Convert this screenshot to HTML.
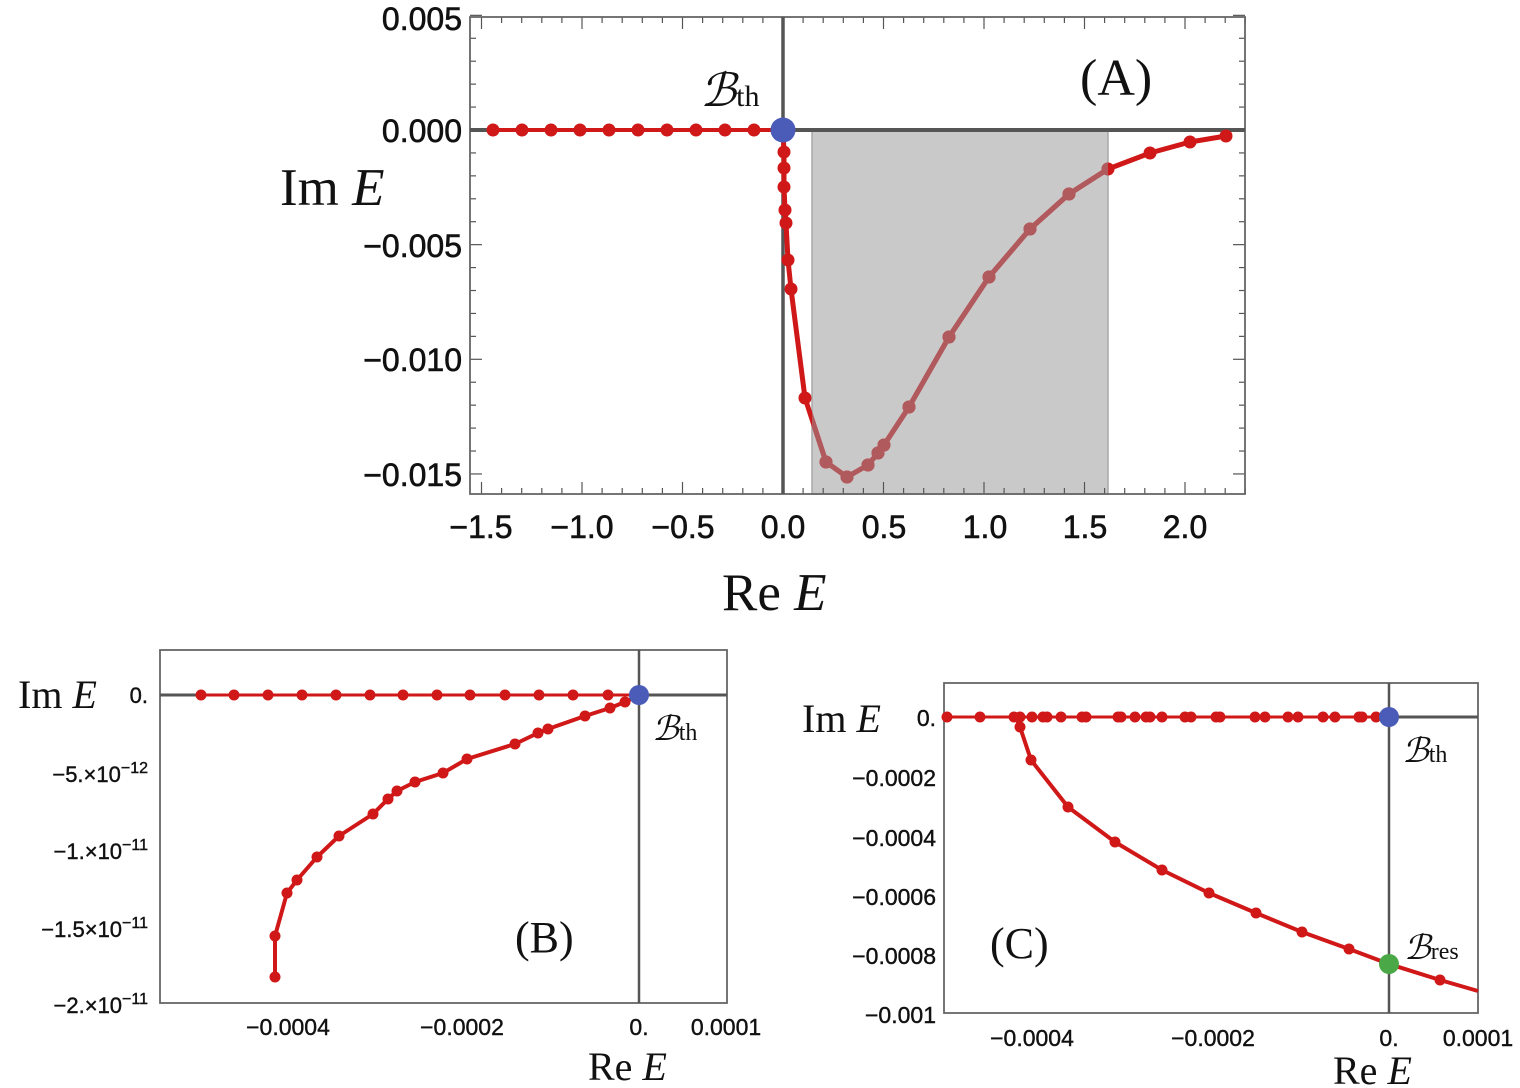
<!DOCTYPE html>
<html><head><meta charset="utf-8"><style>
html,body{margin:0;padding:0;background:#fff;}
svg{display:block;}
.t{font-family:"Liberation Sans",sans-serif;fill:#111;stroke:#111;stroke-width:0.6;}
.s{font-family:"Liberation Serif","DejaVu Serif",serif;fill:#111;}
</style></head><body>
<svg id="s" width="1520" height="1088" viewBox="0 0 1520 1088" xmlns="http://www.w3.org/2000/svg">
<defs><clipPath id="cr"><rect x="812" y="130" width="296" height="364"/></clipPath></defs>
<!-- Panel A -->
<rect x="812" y="130" width="296" height="364" fill="#c9c9c9" stroke="#a8a8a8" stroke-width="1.5"/>
<g id="ticksA" stroke="#555" stroke-width="1.2"></g>
<rect x="470" y="17" width="775" height="477" fill="none" stroke="#666" stroke-width="1.8"/>
<line x1="783" y1="17" x2="783" y2="494" stroke="#555" stroke-width="3.5"/>
<line x1="470" y1="130" x2="1245" y2="130" stroke="#555" stroke-width="4"/>
<g id="curveA"></g>
<circle cx="783" cy="130" r="12.5" fill="#4a5cb8"/>
<g class="t" font-size="32" text-anchor="end">
<text x="462" y="30">0.005</text><text x="462" y="142">0.000</text><text x="462" y="257">−0.005</text><text x="462" y="371">−0.010</text><text x="462" y="486">−0.015</text>
</g>
<g class="t" font-size="32" text-anchor="middle">
<text x="481" y="538">−1.5</text><text x="582" y="538">−1.0</text><text x="683" y="538">−0.5</text><text x="783" y="538">0.0</text><text x="884" y="538">0.5</text><text x="985" y="538">1.0</text><text x="1085" y="538">1.5</text><text x="1185" y="538">2.0</text>
</g>
<text class="s" x="280" y="205" font-size="53">Im <tspan font-style="italic">E</tspan></text>
<text class="s" x="722" y="610" font-size="53">Re <tspan font-style="italic">E</tspan></text>
<text class="s" x="1080" y="95" font-size="52">(A)</text>
<text class="s" x="700" y="106" font-size="46" font-style="italic">ℬ<tspan font-style="normal" font-size="30">th</tspan></text>

<!-- Panel B -->
<rect x="160" y="650" width="567" height="353" fill="none" stroke="#666" stroke-width="1.8"/>
<line x1="639" y1="650" x2="639" y2="1003" stroke="#555" stroke-width="2.5"/>
<line x1="160" y1="695" x2="727" y2="695" stroke="#555" stroke-width="3"/>
<g id="curveB"></g>
<circle cx="639" cy="695" r="10" fill="#4a5cb8"/>
<g class="t" font-size="22" text-anchor="end" style="stroke-width:0.4">
<text x="148" y="703">0.</text>
<text x="148" y="782">−5.×10<tspan font-size="16" dy="-9">−12</tspan></text>
<text x="148" y="859">−1.×10<tspan font-size="16" dy="-9">−11</tspan></text>
<text x="148" y="937">−1.5×10<tspan font-size="16" dy="-9">−11</tspan></text>
<text x="148" y="1013">−2.×10<tspan font-size="16" dy="-9">−11</tspan></text>
</g>
<g class="t" font-size="23" text-anchor="middle" style="stroke-width:0.4">
<text x="288" y="1035">−0.0004</text><text x="462" y="1035">−0.0002</text><text x="639" y="1035">0.</text><text x="726" y="1035">0.0001</text>
</g>
<text class="s" x="18" y="708" font-size="40">Im <tspan font-style="italic">E</tspan></text>
<text class="s" x="588" y="1080" font-size="40">Re <tspan font-style="italic">E</tspan></text>
<text class="s" x="515" y="952" font-size="44">(B)</text>
<text class="s" x="652" y="740" font-size="34" font-style="italic">ℬ<tspan font-style="normal" font-size="24">th</tspan></text>

<!-- Panel C -->
<rect x="944" y="683" width="534" height="330" fill="none" stroke="#666" stroke-width="1.8"/>
<line x1="1389" y1="683" x2="1389" y2="1013" stroke="#555" stroke-width="2.5"/>
<line x1="944" y1="717" x2="1478" y2="717" stroke="#555" stroke-width="3"/>
<g id="curveC"></g>
<circle cx="1389" cy="717" r="10" fill="#4a5cb8"/>
<circle cx="1389" cy="964" r="10" fill="#4aa846"/>
<g class="t" font-size="23" text-anchor="end" style="stroke-width:0.4">
<text x="936" y="726">0.</text><text x="936" y="786">−0.0002</text><text x="936" y="846">−0.0004</text><text x="936" y="905">−0.0006</text><text x="936" y="964">−0.0008</text><text x="936" y="1023">−0.001</text>
</g>
<g class="t" font-size="23" text-anchor="middle" style="stroke-width:0.4">
<text x="1032" y="1046">−0.0004</text><text x="1213" y="1046">−0.0002</text><text x="1389" y="1046">0.</text><text x="1478" y="1046">0.0001</text>
</g>
<text class="s" x="802" y="732" font-size="40">Im <tspan font-style="italic">E</tspan></text>
<text class="s" x="1333" y="1084" font-size="40">Re <tspan font-style="italic">E</tspan></text>
<text class="s" x="990" y="958" font-size="44">(C)</text>
<text class="s" x="1402" y="762" font-size="34" font-style="italic">ℬ<tspan font-style="normal" font-size="24">th</tspan></text>
<text class="s" x="1404" y="959" font-size="34" font-style="italic">ℬ<tspan font-style="normal" font-size="24">res</tspan></text>
</svg>
<script>
var NS="http://www.w3.org/2000/svg";
function el(p,n,a){var e=document.createElementNS(NS,n);for(var k in a)e.setAttribute(k,a[k]);p.appendChild(e);return e;}
function pts(arr){return arr.map(function(p){return p[0]+","+p[1]}).join(" ");}
var tA=document.getElementById("ticksA");
for(var i=-15;i<=23;i++){var x=783+20.1*i;var big=(i%5==0);var L=big?12:6;
 el(tA,"line",{x1:x,y1:494,x2:x,y2:494-L});el(tA,"line",{x1:x,y1:17,x2:x,y2:17+L});}
for(var j=-15;j<=5;j++){var y=130-22.93*j;var big=(j%5==0);var L=big?12:6;
 el(tA,"line",{x1:470,y1:y,x2:470+L,y2:y});el(tA,"line",{x1:1245,y1:y,x2:1245-L,y2:y});}
var cA=document.getElementById("curveA");
var horA=[];for(var k=0;k<10;k++)horA.push([493+29*k,130]);
var A=[[783,130],[784,152],[784,168],[784,187],[785,210],[786,223],[788,260],[791,289],[805,398],[826,462],[847,477],[868,465],[878,453],[884,445],[909,407],[949,337],[989,277],[1030,229],[1069,194],[1108,169],[1150,153],[1190,142],[1226,136]];
el(cA,"polyline",{points:pts([[493,130],[783,130]]),stroke:"#d01818","stroke-width":4,fill:"none"});
function draw(g,arr,col,w,r,extra){var pl=el(g,"polyline",{points:pts(arr),stroke:col,"stroke-width":w,fill:"none","stroke-linejoin":"round"});
 if(extra)for(var k in extra)pl.setAttribute(k,extra[k]);
 arr.forEach(function(p,i){if(i==0)return;var c=el(g,"circle",{cx:p[0],cy:p[1],r:r,fill:col});if(extra)for(var k in extra)c.setAttribute(k,extra[k]);});}
draw(cA,A,"#d01818",5,6.5);
draw(cA,A,"#b05a5e",5,6.5,{"clip-path":"url(#cr)"});
horA.forEach(function(p){el(cA,"circle",{cx:p[0],cy:p[1],r:6.5,fill:"#d01818"});});
var cB=document.getElementById("curveB");
el(cB,"line",{x1:201,y1:695,x2:639,y2:695,stroke:"#d01818","stroke-width":3});
[201,234,268,302,336,370,403,437,470,505,539,573,608].forEach(function(x){el(cB,"circle",{cx:x,cy:695,r:5.5,fill:"#d01818"});});
var B=[[639,695],[625,702],[610,708],[585,716],[548,729],[538,733],[515,744],[467,759],[443,773],[415,782],[397,791],[388,799],[373,814],[339,836],[317,857],[297,880],[287,893],[275,936],[275,977]];
draw(cB,B,"#d01818",4,5.5);
var cC=document.getElementById("curveC");
el(cC,"line",{x1:944,y1:717,x2:1389,y2:717,stroke:"#d01818","stroke-width":3});
[947,980,1014,1020,1032,1043,1047,1061,1082,1086,1118,1121,1135,1146,1150,1162,1185,1191,1216,1220,1255,1265,1288,1298,1323,1335,1359,1362,1376].forEach(function(x){el(cC,"circle",{cx:x,cy:717,r:5.5,fill:"#d01818"});});
var C=[[1016,717],[1020,727],[1031,760],[1068,807],[1115,842],[1162,870],[1209,893],[1256,913],[1302,932],[1349,949],[1389,964],[1440,980],[1478,991]];
var Cd=[[1020,727],[1031,760],[1068,807],[1115,842],[1162,870],[1209,893],[1256,913],[1302,932],[1349,949],[1440,980]];
el(cC,"polyline",{points:pts(C),stroke:"#d01818","stroke-width":4,fill:"none","stroke-linejoin":"round"});
Cd.forEach(function(p){el(cC,"circle",{cx:p[0],cy:p[1],r:5.5,fill:"#d01818"});});
</script>
</body></html>
